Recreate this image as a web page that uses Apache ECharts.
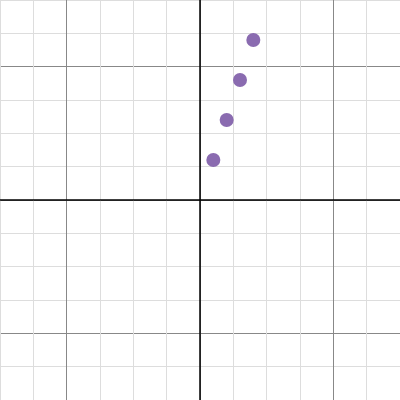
<!DOCTYPE html><html><head><script src="https://cdn.jsdelivr.net/npm/echarts@6/dist/echarts.min.js"></script></head><body style="margin:0"><div id="c" style="width:400px;height:400px"></div><script>
const xs=[0.2,0.4,0.6,0.8];
const ys=[0.6,1.2,1.8,2.4];
const ch=echarts.init(document.getElementById('c'));
const ax={type:'value',min:-3,max:3,interval:0.5,axisLabel:{show:false},axisTick:{show:false},
 axisLine:{onZero:true,lineStyle:{color:'#000',width:1.5}},
 splitLine:{lineStyle:{color:['#ddd','#ddd','#888','#ddd'],width:1}}};
ch.setOption({animation:false,grid:{left:-13,right:-13,top:-13,bottom:-13},
 xAxis:Object.assign({},ax),yAxis:Object.assign({},ax),
 series:[{type:'scatter',symbolSize:14,itemStyle:{color:'#8a6bb0',opacity:1},data:xs.map((x,i)=>[x,ys[i]])}]});
</script></body></html>
